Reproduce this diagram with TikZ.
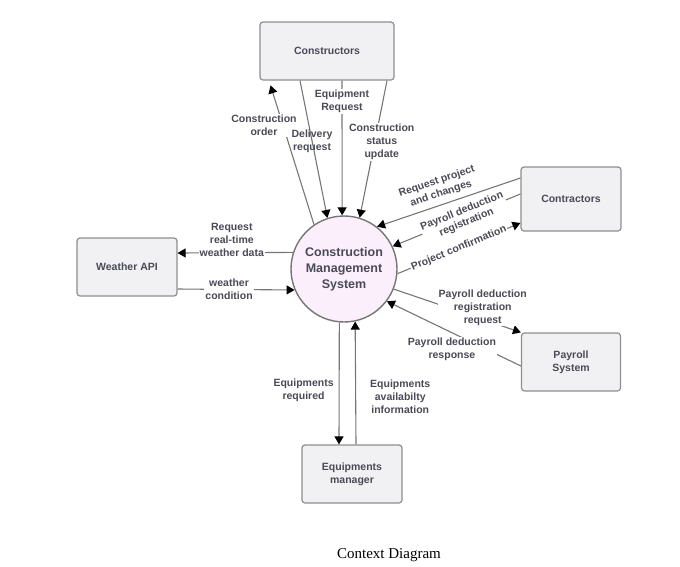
\documentclass[tikz,border=0pt]{standalone}
\usepackage{fontspec}
\setmainfont{Liberation Sans}
\newfontfamily\capfont{Liberation Serif}
\usetikzlibrary{arrows.meta}
\usetikzlibrary{positioning}
\definecolor{txtgray}{HTML}{4A4A57}
\definecolor{linegray}{HTML}{767676}
\definecolor{boxgray}{HTML}{F1F1F3}
\definecolor{bordergray}{HTML}{8E8E8E}
\definecolor{cmspink}{HTML}{FCEFFC}

\begin{document}
\begin{tikzpicture}[x=1pt,y=-1pt,>={Triangle[length=8pt,width=9pt,color=black]},
  font=\fontsize{10.5}{13}\selectfont\bfseries,text=txtgray]
 \tikzstyle{ext node}=[rectangle,rounded corners=3pt,draw=bordergray,fill=boxgray,line width=1.2pt,align=center]
 \tikzstyle{proc node}=[circle,draw=linegray,fill=cmspink,line width=1.4pt,minimum size=106pt,inner sep=0pt,align=center,font=\fontsize{12.5}{16}\selectfont\bfseries]
 \tikzset{
 	lbl node/.style={align=center,inner sep=1pt},
 	cut node/.style={lbl node,fill=white},
 	flow/.style={draw=linegray,line width=1.1pt,->}
 }
 \useasboundingbox (0,0) rectangle (680,566);

       \node[proc node] (cms) at (344,269) {Construction\\Management\\System};
       \node[ext node,minimum width=134pt,minimum height=58pt] (cons) at (327,51) {Constructors};
       \node[ext node,minimum width=100pt,minimum height=64pt] (ctr) at (571,199) {Contractors};
       \node[ext node,minimum width=100pt,minimum height=58pt] (wapi) at (127,267) {Weather API};
       \node[ext node,minimum width=99pt,minimum height=58pt] (pay) at (571,362) {Payroll\\System};
       \node[ext node,minimum width=100pt,minimum height=58pt] (eqm) at (352,474) {Equipments\\manager};
       \node[font=\capfont\fontsize{15}{18}\selectfont,text=black] (cap) at (389,555) {Context Diagram};

     % constructors
     \path (cms.124) edge[flow,shorten >=5pt] node[cut node,pos=0.69,xshift=-19pt] {Construction\\order} ([xshift=-58pt]cons.south);
     \path ([xshift=-27pt]cons.south) edge[flow] node[lbl node,pos=0.44] {Delivery\\request} (cms.108);
     \path ([xshift=15pt]cons.south) edge[flow] node[cut node,pos=0.155] {Equipment\\Request} (cms.92);
     \path ([xshift=60pt]cons.south) edge[flow] node[cut node,pos=0.45,xshift=7pt] {Construction\\status\\update} (cms.73);

     % contractors
     \path ([yshift=21pt]ctr.west) edge[flow] node[lbl node,sloped,above=4pt,pos=0.53] {Request project\\and changes} (cms.52);
     \path ([yshift=5pt]ctr.west) edge[flow] node[cut node,sloped,pos=0.44,font=\fontsize{10.5}{12}\selectfont\bfseries] {Payroll deduction\\registration} (cms.25);
     \path (cms.-5) edge[flow] node[cut node,sloped,pos=0.5] {Project confirmation} ([yshift=-24pt]ctr.west);

     % weather
     \path (cms.162) edge[flow] node[cut node,pos=0.53,yshift=13pt] {Request\\real-time\\weather data} ([yshift=14pt]wapi.east);
     \path ([yshift=-22pt]wapi.east) edge[flow] node[cut node,pos=0.44] {weather\\condition} (cms.203);

     % payroll
     \path (cms.-22) edge[flow] node[cut node,pos=0.7,yshift=12pt] {Payroll deduction\\registration\\request} (pay.north west);
     \path ([yshift=-4pt]pay.west) edge[flow] node[cut node,pos=0.47,xshift=-6pt,yshift=-14pt] {Payroll deduction\\response} (cms.-37);

     % equipments
     \path (cms.265) edge[flow] node[lbl node,left=4pt,pos=0.56] {Equipments\\required} ([xshift=-13pt]eqm.north);
     \path ([xshift=4pt]eqm.north) edge[flow] node[lbl node,right=13pt,pos=0.39] {Equipments\\availabilty\\information} (cms.-78);
 ;
 \end{tikzpicture}
\end{document}
